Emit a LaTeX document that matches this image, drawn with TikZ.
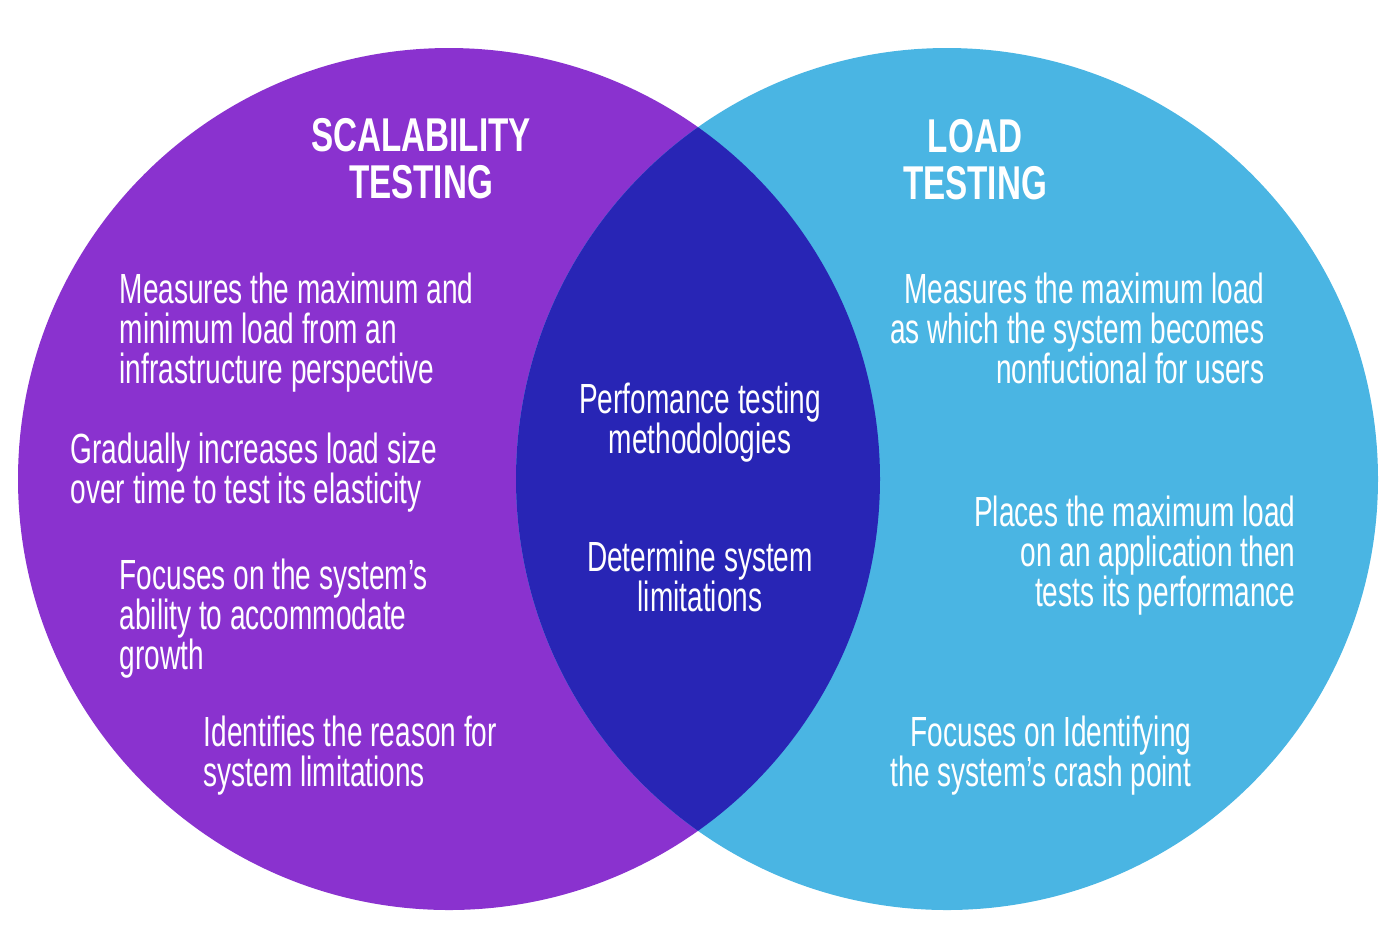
\documentclass[tikz,border=0pt]{standalone}
\usepackage{fontspec}
\setmainfont{Liberation Sans}[FakeStretch=0.665]
\newfontfamily\titlefont{Liberation Sans}[FakeStretch=0.70]
\usetikzlibrary{positioning}
\definecolor{scalpurple}{HTML}{8A32CF}
\definecolor{loadblue}{HTML}{4AB5E3}
\definecolor{bothblue}{HTML}{2825B5}
\tikzset{
  txt/.style={text=white, font=\fontsize{12}{11.4}\selectfont, inner sep=0pt},
  ttl/.style={text=white, font=\titlefont\bfseries\fontsize{13.5}{13.4}\selectfont, align=center, inner sep=0pt}
}

\begin{document}
\begin{tikzpicture}
  \useasboundingbox (0,0) rectangle (14,-9.4);
  % the two sets
  \fill[scalpurple] (4.49,-4.79) circle (4.31);
  \fill[loadblue] (9.47,-4.79) circle (4.31);
  \begin{scope}
    \clip (4.49,-4.79) circle (4.31);
    \fill[bothblue] (9.47,-4.79) circle (4.31);
  \end{scope}

  % titles
  \node[ttl, anchor=north] (scal) at (4.21,-1.18) {SCALABILITY\\TESTING};
  \node[ttl, anchor=north] (load) at (9.75,-1.19) {LOAD\\TESTING};

  % scalability side
  \node[txt, align=left, anchor=north west] (sone) at (1.19,-2.72) {Measures the maximum and\\minimum load from an\\infrastructure perspective};
  \node[txt, align=left, anchor=north west] (stwo) at (0.70,-4.32) {Gradually increases load size\\over time to test its elasticity};
  \node[txt, align=left, anchor=north west] (sthree) at (1.19,-5.58) {Focuses on the system’s\\ability to accommodate\\growth};
  \node[txt, align=left, anchor=north west] (sfour) at (2.03,-7.15) {Identifies the reason for\\system limitations};

  % overlap
  \node[txt, align=center, anchor=north] (mone) at (7.00,-3.82) {Perfomance testing\\methodologies};
  \node[txt, align=center, anchor=north] (mtwo) at (7.00,-5.40) {Determine system\\limitations};

  % load side
  \node[txt, align=right, anchor=north east] (lone) at (12.65,-2.72) {Measures the maximum load\\as which the system becomes\\nonfuctional for users};
  \node[txt, align=right, anchor=north east] (ltwo) at (12.96,-4.95) {Places the maximum load\\on an application then\\tests its performance};
  \node[txt, align=right, anchor=north east] (lthree) at (11.92,-7.15) {Focuses on Identifying\\the system’s crash point};
\end{tikzpicture}
\end{document}
